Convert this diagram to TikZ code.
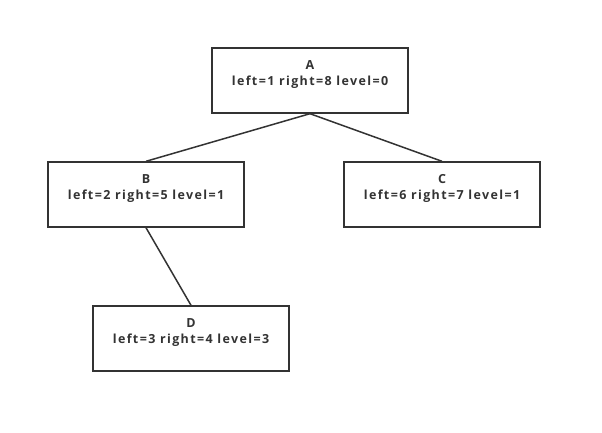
\documentclass[tikz,border=0pt]{standalone}
\usepackage{fontspec}
\setmainfont{Open Sans}[LetterSpace=11]
\usepackage{tikz}
\definecolor{ink}{HTML}{333333}

\begin{document}
\begin{tikzpicture}[x=1pt, y=-1pt, font=\bfseries\fontsize{12.5}{16}\selectfont,
  every node/.style={text=ink},
  box/.style={draw=ink, line width=1.4pt, minimum width=196pt, minimum height=65pt, inner sep=0pt},
  txt/.style={anchor=north, align=center, yshift=-13pt, inner sep=0pt},
  edge/.style={draw=ink, line width=1.5pt}]
  \useasboundingbox (0,0) rectangle (602,433);
  % tree nodes
  \node[box] (A) at (310,80.5) {};
  \node[box] (B) at (146,194.5) {};
  \node[box] (C) at (442,194.5) {};
  \node[box] (D) at (191,338.5) {};
  \node[txt] (A-txt) at (A.north) {A\\left=1 right=8 level=0};
  \node[txt] (B-txt) at (B.north) {B\\left=2 right=5 level=1};
  \node[txt] (C-txt) at (C.north) {C\\left=6 right=7 level=1};
  \node[txt] (D-txt) at (D.north) {D\\left=3 right=4 level=3};
  % edges
  \draw[edge] (A.south) -- (B.north);
  \draw[edge] (A.south) -- (C.north);
  \draw[edge] (B.south) -- (D.north);
\end{tikzpicture}
\end{document}
